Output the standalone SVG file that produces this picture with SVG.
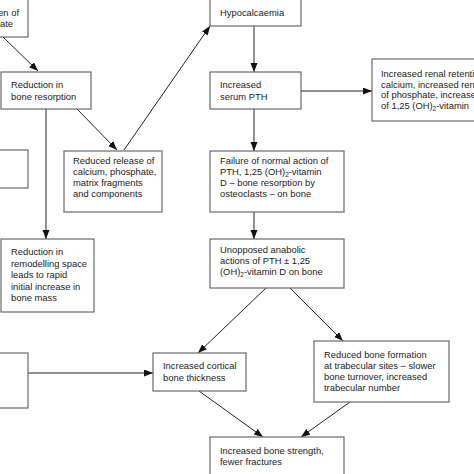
<svg xmlns="http://www.w3.org/2000/svg" width="474" height="474" viewBox="0 0 474 474">
<style>
.box{fill:#fff;stroke:#6a6a6a;stroke-width:1.2}
.t{font-family:"Liberation Sans","Noto Sans",sans-serif;font-size:9.4px;fill:#222}
.sub{font-size:6.5px}
.c{stroke:#222;stroke-width:1;fill:none;marker-end:url(#ah)}
</style>
<defs>
<marker id="ah" markerUnits="userSpaceOnUse" markerWidth="10" markerHeight="8" refX="9" refY="3.5" orient="auto">
<path d="M0,0 L9,3.5 L0,7 z" fill="#111"/>
</marker>
</defs>
<rect x="0" y="0" width="474" height="474" fill="#fff"/>
<g id="connectors">
<line class="c" x1="3" y1="37" x2="38" y2="71"/>
<line class="c" x1="254" y1="26" x2="254" y2="72"/>
<line class="c" x1="77" y1="109" x2="117" y2="150"/>
<line class="c" x1="124" y1="150" x2="210" y2="26"/>
<line class="c" x1="46" y1="109" x2="46" y2="239"/>
<line class="c" x1="301" y1="91" x2="372" y2="91"/>
<line class="c" x1="254" y1="109" x2="254" y2="151"/>
<line class="c" x1="254" y1="212" x2="254" y2="239"/>
<line class="c" x1="266" y1="288" x2="198" y2="353"/>
<line class="c" x1="290" y1="288" x2="343" y2="341"/>
<line class="c" x1="28" y1="373" x2="153" y2="373"/>
<line class="c" x1="199" y1="391" x2="263" y2="437"/>
<line class="c" x1="350" y1="402" x2="301" y2="437"/>
</g>
<g id="n-topleft">
<rect class="box" x="-80" y="-10" width="108" height="47"/>
<text class="t" x="19" y="15.5" text-anchor="end">en of</text>
<text class="t" x="13" y="26.5" text-anchor="end">ate</text>
</g>
<g id="n-hypocalcaemia">
<rect class="box" x="210" y="-2" width="91" height="28"/>
<text class="t" x="220" y="16">Hypocalcaemia</text>
</g>
<g id="n-reduction-resorption">
<rect class="box" x="1" y="72" width="90" height="37"/>
<text class="t" x="11" y="88">Reduction in</text>
<text class="t" x="11" y="100">bone resorption</text>
</g>
<g id="n-serum-pth">
<rect class="box" x="210" y="72" width="91" height="37"/>
<text class="t" x="220" y="88">Increased</text>
<text class="t" x="220" y="100">serum PTH</text>
</g>
<g id="n-renal">
<rect class="box" x="372" y="59" width="130" height="62"/>
<text class="t" x="381" y="77">Increased renal retenti</text>
<text class="t" x="381" y="87.5">calcium, increased ren</text>
<text class="t" x="381" y="98">of phosphate, increase</text>
<text class="t" x="381" y="108.5">of 1,25 (OH)<tspan class="sub" dy="2">2</tspan><tspan dy="-2">-vitamin</tspan></text>
</g>
<g id="n-left-mid">
<rect class="box" x="-80" y="150" width="108" height="38"/>
</g>
<g id="n-reduced-release">
<rect class="box" x="64" y="151" width="98" height="61"/>
<text class="t" x="73" y="164">Reduced release of</text>
<text class="t" x="73" y="175">calcium, phosphate,</text>
<text class="t" x="73" y="186">matrix fragments</text>
<text class="t" x="73" y="197">and components</text>
</g>
<g id="n-failure">
<rect class="box" x="210" y="151" width="134" height="61"/>
<text class="t" x="220" y="164">Failure of normal action of</text>
<text class="t" x="220" y="175">PTH, 1,25 (OH)<tspan class="sub" dy="2">2</tspan><tspan dy="-2">-vitamin</tspan></text>
<text class="t" x="220" y="186">D – bone resorption by</text>
<text class="t" x="220" y="197">osteoclasts – on bone</text>
</g>
<g id="n-remodelling">
<rect class="box" x="1" y="239" width="93" height="73"/>
<text class="t" x="11" y="255">Reduction in</text>
<text class="t" x="11" y="266.5">remodelling space</text>
<text class="t" x="11" y="278">leads to rapid</text>
<text class="t" x="11" y="289.5">initial increase in</text>
<text class="t" x="11" y="301">bone mass</text>
</g>
<g id="n-unopposed">
<rect class="box" x="210" y="239" width="134" height="49"/>
<text class="t" x="220" y="253">Unopposed anabolic</text>
<text class="t" x="220" y="264">actions of PTH ± 1,25</text>
<text class="t" x="220" y="275">(OH)<tspan class="sub" dy="2">2</tspan><tspan dy="-2">-vitamin D on bone</tspan></text>
</g>
<g id="n-left-bottom">
<rect class="box" x="-80" y="353" width="108" height="55"/>
</g>
<g id="n-cortical">
<rect class="box" x="153" y="353" width="93" height="38"/>
<text class="t" x="163" y="369">Increased cortical</text>
<text class="t" x="163" y="381">bone thickness</text>
</g>
<g id="n-trabecular">
<rect class="box" x="314" y="341" width="135" height="61"/>
<text class="t" x="324" y="358">Reduced bone formation</text>
<text class="t" x="324" y="369">at trabecular sites – slower</text>
<text class="t" x="324" y="380">bone turnover, increased</text>
<text class="t" x="324" y="391">trabecular number</text>
</g>
<g id="n-strength">
<rect class="box" x="210" y="437" width="134" height="50"/>
<text class="t" x="220" y="454">Increased bone strength,</text>
<text class="t" x="220" y="465">fewer fractures</text>
</g>
</svg>
